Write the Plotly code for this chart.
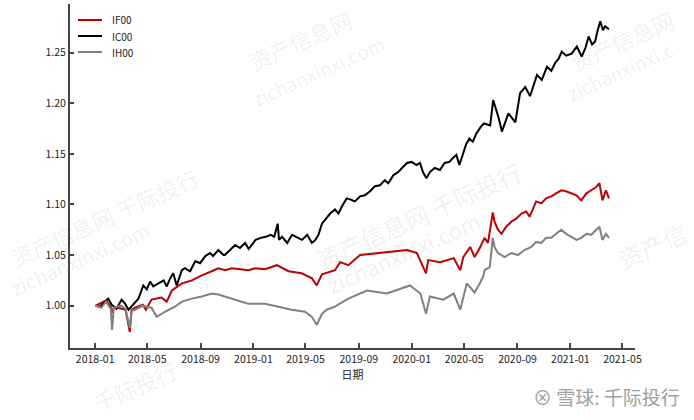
import plotly.graph_objects as go

# ---------------- data ----------------
ic_dates = ["2018-01-02","2018-01-12","2018-01-24","2018-01-31","2018-02-08","2018-02-19","2018-03-03","2018-03-11",
            "2018-03-19","2018-03-30","2018-04-11","2018-04-22","2018-04-30","2018-05-08","2018-05-15","2018-05-27",
            "2018-06-08","2018-06-15","2018-06-23","2018-06-30","2018-07-08","2018-07-20","2018-07-27","2018-08-08",
            "2018-08-20","2018-08-31","2018-09-12","2018-09-23","2018-09-30","2018-10-12","2018-10-24","2018-10-27",
            "2018-11-08","2018-11-20","2018-12-01","2018-12-13","2018-12-21","2018-12-29","2019-01-06","2019-01-18",
            "2019-01-29","2019-02-10","2019-02-18","2019-02-26","2019-03-01","2019-03-08","2019-03-20","2019-03-31",
            "2019-04-12","2019-04-23","2019-05-05","2019-05-16","2019-05-24","2019-05-31","2019-06-08","2019-06-15",
            "2019-06-27","2019-07-08","2019-07-16","2019-07-24","2019-08-04","2019-08-12","2019-08-23","2019-09-04",
            "2019-09-15","2019-09-27","2019-10-08","2019-10-20","2019-10-31","2019-11-08","2019-11-20","2019-12-01",
            "2019-12-13","2019-12-21","2020-01-01","2020-01-12","2020-01-20","2020-01-27","2020-02-04","2020-02-12",
            "2020-02-23","2020-03-06","2020-03-17","2020-03-28","2020-04-05","2020-04-13","2020-04-20","2020-04-28",
            "2020-05-06","2020-05-13","2020-05-21","2020-05-29","2020-06-09","2020-06-16","2020-06-30","2020-07-07",
            "2020-07-13","2020-07-20","2020-07-27","2020-08-04","2020-08-11","2020-08-20","2020-08-27","2020-09-07",
            "2020-09-19","2020-09-30","2020-10-08","2020-10-16","2020-10-27","2020-11-08","2020-11-18","2020-11-27",
            "2020-12-05","2020-12-12","2020-12-22","2021-01-04","2021-01-16","2021-01-27","2021-02-05","2021-02-12",
            "2021-02-20","2021-02-27","2021-03-05","2021-03-11","2021-03-17","2021-03-22","2021-03-31"]
ic_vals = [1.000,0.999,1.004,1.007,1.001,0.997,1.006,1.002,
           0.996,1.001,1.007,1.020,1.016,1.024,1.019,1.022,
           1.025,1.019,1.027,1.032,1.020,1.035,1.037,1.034,
           1.044,1.042,1.049,1.052,1.049,1.055,1.050,1.050,
           1.055,1.060,1.057,1.062,1.056,1.060,1.065,1.067,
           1.068,1.070,1.068,1.081,1.065,1.068,1.062,1.070,
           1.067,1.065,1.070,1.062,1.065,1.070,1.081,1.085,
           1.091,1.095,1.091,1.098,1.106,1.105,1.103,1.108,
           1.109,1.113,1.118,1.119,1.124,1.121,1.129,1.132,
           1.137,1.141,1.142,1.139,1.141,1.132,1.126,1.132,
           1.136,1.134,1.141,1.142,1.146,1.149,1.139,1.149,
           1.160,1.165,1.162,1.170,1.177,1.180,1.178,1.203,
           1.195,1.185,1.172,1.182,1.190,1.185,1.181,1.210,
           1.216,1.207,1.218,1.228,1.223,1.236,1.232,1.240,
           1.244,1.251,1.247,1.249,1.256,1.246,1.255,1.266,
           1.258,1.261,1.272,1.281,1.272,1.276,1.273]

if_dates = ["2018-01-02","2018-01-15","2018-01-26","2018-02-06","2018-02-09","2018-02-14","2018-03-01","2018-03-12",
            "2018-03-22","2018-03-26","2018-04-03","2018-04-21","2018-04-28","2018-05-11","2018-06-03","2018-06-15",
            "2018-06-27","2018-07-20","2018-08-12","2018-09-04","2018-09-27","2018-10-12","2018-10-28","2018-11-12",
            "2018-12-20","2019-01-05","2019-01-28","2019-02-24","2019-03-23","2019-04-22","2019-05-16","2019-05-27",
            "2019-06-08","2019-07-08","2019-07-20","2019-08-08","2019-09-04","2019-10-20","2019-12-21","2020-01-13",
            "2020-02-03","2020-02-08","2020-03-07","2020-04-07","2020-04-22","2020-04-29","2020-05-15","2020-05-25",
            "2020-06-06","2020-06-17","2020-06-25","2020-07-06","2020-07-10","2020-07-18","2020-07-26","2020-08-06",
            "2020-08-18","2020-08-29","2020-09-10","2020-09-21","2020-09-29","2020-10-14","2020-10-26","2020-11-06",
            "2020-11-18","2020-11-29","2020-12-11","2020-12-22","2021-01-03","2021-01-15","2021-01-26","2021-02-07",
            "2021-02-18","2021-03-01","2021-03-09","2021-03-16","2021-03-24","2021-03-31"]
if_vals = [1.000,1.003,1.005,0.999,0.993,0.999,0.997,0.996,
           0.974,0.996,0.998,1.001,0.996,1.006,1.008,1.004,
           1.015,1.022,1.025,1.030,1.034,1.037,1.035,1.037,
           1.035,1.037,1.036,1.040,1.034,1.032,1.027,1.020,
           1.031,1.035,1.043,1.040,1.050,1.052,1.055,1.052,
           1.032,1.045,1.043,1.047,1.035,1.048,1.058,1.048,
           1.057,1.067,1.062,1.092,1.083,1.075,1.071,1.078,
           1.083,1.086,1.091,1.093,1.088,1.103,1.101,1.106,
           1.108,1.111,1.114,1.113,1.111,1.109,1.104,1.111,
           1.114,1.117,1.121,1.104,1.114,1.106]

ih_dates = ["2018-01-02","2018-01-15","2018-01-26","2018-02-06","2018-02-09","2018-02-13","2018-03-01","2018-03-12",
            "2018-03-22","2018-03-26","2018-04-03","2018-04-21","2018-05-11","2018-05-23","2018-06-11","2018-07-04",
            "2018-07-20","2018-08-12","2018-09-04","2018-09-27","2018-10-12","2018-10-28","2018-11-12","2018-12-20",
            "2019-01-28","2019-02-27","2019-03-30","2019-04-30","2019-05-16","2019-05-27","2019-06-08","2019-06-19",
            "2019-07-08","2019-08-08","2019-09-20","2019-11-05","2019-12-28","2020-01-21","2020-02-03","2020-02-12",
            "2020-03-14","2020-04-07","2020-04-22","2020-05-07","2020-05-25","2020-06-06","2020-06-14","2020-06-17",
            "2020-06-29","2020-07-06","2020-07-10","2020-07-18","2020-08-02","2020-08-18","2020-09-02","2020-09-17",
            "2020-10-03","2020-10-14","2020-10-26","2020-11-06","2020-11-18","2020-11-29","2020-12-11","2020-12-22",
            "2021-01-03","2021-01-15","2021-01-26","2021-02-07","2021-02-18","2021-03-01","2021-03-09","2021-03-16",
            "2021-03-24","2021-03-31"]
ih_vals = [1.000,0.998,1.004,0.997,0.976,0.998,1.000,0.997,
           0.978,0.995,0.996,1.000,0.998,0.989,0.994,0.999,
           1.004,1.007,1.009,1.012,1.011,1.009,1.007,1.002,
           1.002,0.999,0.996,0.994,0.989,0.981,0.992,0.996,
           0.999,1.007,1.015,1.012,1.020,1.012,0.992,1.009,
           1.006,1.012,0.996,1.022,1.013,1.022,1.029,1.035,
           1.038,1.067,1.058,1.052,1.048,1.052,1.050,1.055,
           1.058,1.063,1.062,1.067,1.067,1.071,1.075,1.071,
           1.068,1.065,1.067,1.071,1.070,1.075,1.078,1.065,
           1.071,1.067]

series_names = ["IF00", "IC00", "IH00"]
series_colors = ["#c00000", "#000000", "#808080"]
y_ticks = [1.00, 1.05, 1.10, 1.15, 1.20, 1.25]

FONT = "Noto Sans CJK SC"

fig = go.Figure()
for name, xs, ys, col in zip(series_names, [if_dates, ic_dates, ih_dates],
                             [if_vals, ic_vals, ih_vals], series_colors):
    fig.add_trace(go.Scatter(x=xs, y=ys, mode="lines", name=name,
                             line=dict(color=col, width=2), showlegend=False))

# pixel -> paper helpers
L, R, T, B = 70, 635, 4, 348
def px(x): return (x - L) / (R - L)
def py(y): return (B - y) / (B - T)

shapes = []
annots = []
# legend (top-left, no frame)
for i, (name, col) in enumerate(zip(series_names, series_colors)):
    yy = py(20 + 16 * i)
    shapes.append(dict(type="line", xref="paper", yref="paper", x0=px(78), x1=px(102),
                       y0=yy, y1=yy, line=dict(color=col, width=2)))
    annots.append(dict(x=px(110), y=yy, xref="paper", yref="paper", text=name,
                       xanchor="left", yanchor="middle", showarrow=False,
                       font=dict(family=FONT, size=10, color="#222")))

# watermarks
wm_color = "rgba(0,0,0,0.07)"
for (cx, cy, txt, sz) in [
    (300, 40, "资产信息网", 22), (318, 70, "zichanxinxi.com", 19),
    (622, 40, "资产信息网", 22), (620, 70, "zichanxinxi.c", 19),
    (418, 215, "资产信息网 千际投行", 24), (403, 252, "zichanxinxi.com", 22),
    (104, 217, "资产信息网 千际投行", 22), (80, 258, "zichanxinxi.com", 20),
    (652, 245, "资产信", 24), (135, 386, "千际投行", 22),
]:
    annots.append(dict(x=px(cx), y=py(cy), xref="paper", yref="paper", text=txt,
                       xanchor="center", yanchor="middle",
                       showarrow=False, textangle=-24, font=dict(family=FONT, size=sz, color=wm_color)))
annots.append(dict(x=px(531), y=py(396), xref="paper", yref="paper", xanchor="left", yanchor="middle",
                   text="⊗ 雪球: 千际投行", showarrow=False,
                   font=dict(family=FONT, size=19, color="#a0a0a0")))

fig.update_layout(
    width=694, height=420,
    margin=dict(l=L, r=694 - R, t=T, b=420 - B),
    paper_bgcolor="white", plot_bgcolor="white",
    font=dict(family=FONT, size=10, color="#222"),
    showlegend=False,
    shapes=shapes,
    annotations=annots,
)
fig.update_xaxes(
    type="date", range=["2017-11-04", "2021-05-30"],
    tick0="2018-01-01", dtick="M4", tickformat="%Y-%m",
    showgrid=False, zeroline=False,
    showline=True, linecolor="#444", linewidth=2,
    ticks="inside", ticklen=5, tickwidth=1.5, tickcolor="#444",
    tickfont=dict(family=FONT, size=10.5, color="#222"),
    title=dict(text="日期", font=dict(family=FONT, size=11, color="#222"), standoff=4),
)
fig.update_yaxes(
    range=[0.9582, 1.298],
    tickvals=y_ticks, tickformat=".2f",
    showgrid=False, zeroline=False,
    showline=True, linecolor="#444", linewidth=2,
    ticks="inside", ticklen=4, tickwidth=1.5, tickcolor="#444",
    tickfont=dict(family=FONT, size=10.5, color="#222"),
)

fig.write_html("out.html", config={"displayModeBar": False},
               post_script="document.body.style.margin='0';document.body.style.overflow='hidden';")
